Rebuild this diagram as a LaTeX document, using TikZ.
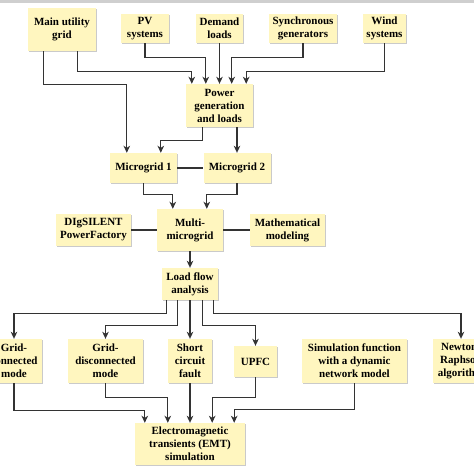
\documentclass[tikz,border=0pt]{standalone}
\usepackage{fontspec}
\setmainfont{Liberation Serif}
\usetikzlibrary{arrows.meta,shadows}
\definecolor{boxfill}{HTML}{FFF6BF}
\definecolor{linecol}{HTML}{333333}
\definecolor{topbar}{HTML}{CFCFCF}
\begin{document}
\begin{tikzpicture}[x=1pt,y=-1pt,
  box/.style={fill=boxfill,draw=none,align=center,inner sep=1pt,
    font=\fontsize{11}{13}\selectfont\bfseries,
    drop shadow={shadow xshift=1.2pt,shadow yshift=-1.2pt,fill=black!35,opacity=0.6}},
  conn/.style={draw=linecol,line width=1.1pt},
  arr/.style={conn,-{Stealth[length=7pt,width=6.5pt,inset=2pt]}}]
\useasboundingbox (0,0) rectangle (474,474);
\fill[topbar] (0,0) rectangle (474,2.5);
% top row
\node[box,minimum width=68pt,minimum height=43pt] (mug) at (62,29.5) {Main utility\\grid};
\node[box,minimum width=48pt,minimum height=29pt] (pv) at (145,28.5) {PV\\systems};
\node[box,minimum width=47pt,minimum height=29pt] (dem) at (219.5,28.5) {Demand\\loads};
\node[box,minimum width=68pt,minimum height=29pt] (syn) at (303,28.5) {Synchronous\\generators};
\node[box,minimum width=43pt,minimum height=29pt] (wind) at (384.5,28.5) {Wind\\systems};
% power generation
\node[box,minimum width=67pt,minimum height=43pt] (pgl) at (219.5,105.5) {Power\\generation\\and loads};
% microgrids
\node[box,minimum width=67pt,minimum height=30pt] (mg1) at (143.5,168) {Microgrid 1};
\node[box,minimum width=67pt,minimum height=30pt] (mg2) at (237,168) {Microgrid 2};
% multi level
\node[box,minimum width=66pt,minimum height=42pt] (multi) at (190,230) {Multi-\\microgrid};
\node[box,minimum width=75pt,minimum height=32pt] (dig) at (93.5,230) {DIgSILENT\\PowerFactory};
\node[box,minimum width=75pt,minimum height=32pt] (math) at (287.5,230) {Mathematical\\modeling};
% load flow
\node[box,minimum width=56pt,minimum height=32pt] (lfa) at (190,284) {Load flow\\analysis};
% bottom row
\node[box,minimum width=56pt,minimum height=44pt] (gc) at (14,361) {Grid-\\connected\\mode};
\node[box,minimum width=75pt,minimum height=44pt] (gd) at (105.5,361) {Grid-\\disconnected\\mode};
\node[box,minimum width=44pt,minimum height=44pt] (scf) at (190,361) {Short\\circuit\\fault};
\node[box,minimum width=43pt,minimum height=31pt] (upfc) at (255.5,361.5) {UPFC};
\node[box,minimum width=105pt,minimum height=44pt] (sim) at (354.5,361) {Simulation function\\with a dynamic\\network model};
\node[box,minimum width=56pt,minimum height=44pt] (nr) at (461,361) {Newton-\\Raphson\\algorithm};
% EMT
\node[box,minimum width=110pt,minimum height=42pt] (emt) at (190,444) {Electromagnetic\\transients (EMT)\\simulation};
% connectors: top row to power generation
\draw[arr] ([xshift=16pt]mug.south west) -- ++(0,33) -| ([xshift=17pt]mg1.north west);
\draw[arr] ([xshift=50pt]mug.south west) -- ++(0,20) -| ([xshift=6pt]pgl.north west);
\draw[arr] (pv.south) -- ++(0,14) -| ([xshift=20pt]pgl.north west);
\draw[arr] (dem.south) -- (pgl.north);
\draw[arr] (syn.south) -- ++(0,14) -| ([xshift=-21.5pt]pgl.north east);
\draw[arr] (wind.south) -- ++(0,28) -| ([xshift=-7pt]pgl.north east);
% power generation to microgrids
\draw[arr] ([xshift=17pt]pgl.south west) -- ++(0,13) -| ([xshift=51pt]mg1.north west);
\draw[arr] (mg2.north |- pgl.south) -- (mg2.north);
\draw[conn] (mg1.east) -- (mg2.west);
% microgrids to multi
\draw[arr] (mg1.south) -- ++(0,11) -| ([xshift=16pt]multi.north west);
\draw[arr] (mg2.south) -- ++(0,11) -| ([xshift=50pt]multi.north west);
\draw[conn] (dig.east) -- (multi.west);
\draw[conn] (multi.east) -- (math.west);
\draw[arr] (multi.south) -- (lfa.north);
% load flow to bottom row
\draw[arr] ([xshift=5pt]lfa.south west) -- ++(0,13) -| (gc.north);
\draw[arr] ([xshift=16pt]lfa.south west) -- ++(0,25) -| (gd.north);
\draw[arr] (lfa.south) -- (scf.north);
\draw[arr] ([xshift=-16pt]lfa.south east) -- ++(0,25) -| (upfc.north);
\draw[arr] ([xshift=-5pt]lfa.south east) -- ++(0,13) -| (nr.north);
% bottom row to EMT
\draw[arr] (gc.south) -- ++(0,27) -| ([xshift=10pt]emt.north west);
\draw[arr] (gd.south) -- ++(0,14) -| ([xshift=33pt]emt.north west);
\draw[arr] (scf.south) -- (emt.north);
\draw[arr] (upfc.south) -- ++(0,20) -| ([xshift=-33pt]emt.north east);
\draw[arr] (sim.south) -- ++(0,26) -| ([xshift=-11pt]emt.north east);
\end{tikzpicture}
\end{document}
